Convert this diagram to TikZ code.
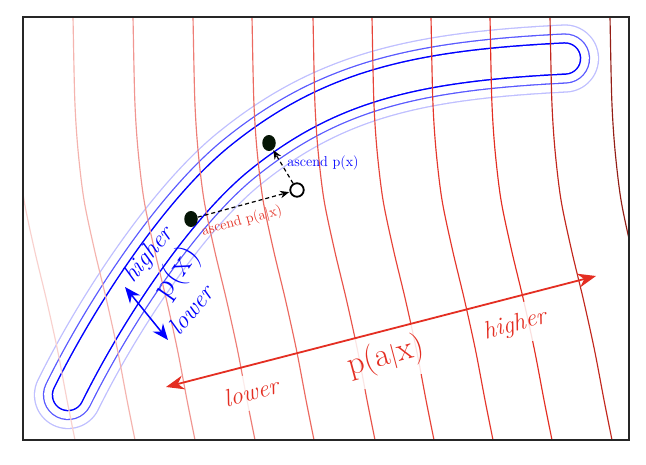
\documentclass[tikz,border=0pt]{standalone}
\usetikzlibrary{arrows.meta,shapes.geometric}
\definecolor{myred}{RGB}{228,46,34}
\definecolor{dotc}{RGB}{6,22,6}
\begin{document}
\begin{tikzpicture}[x=1pt,y=-1pt,
  redline/.style={line width=1.15pt},
  dasharrow/.style={black, line width=1.2pt, dash pattern=on 4pt off 3pt, -{Stealth[length=9pt,width=7.5pt]}, shorten >=0.5pt},
  redlbl/.style={text=myred, fill=white, fill opacity=0.85, text opacity=1, inner sep=9pt, rotate=15},
  bluelbl/.style={text=blue, inner sep=0pt},
  itlbl/.style={font=\fontsize{24.5}{28}\selectfont\itshape},
  biglbl/.style={font=\fontsize{33}{38}\selectfont},
  smalllbl/.style={font=\fontsize{14.3}{17}\selectfont},
  dotnode/.style={ellipse, fill=dotc, minimum width=13.5pt, minimum height=16pt, inner sep=0pt}
]
\useasboundingbox (0,0) rectangle (646,464);
\fill[white] (0,0) rectangle (646,464);

\def\spine{(68,395) .. controls (108,314) and (176,211) .. (237.5,160) .. controls (328,86) and (415,66) .. (565,58.5)}

% blue contours (tube outlines)
\draw[blue!25, line width=68.3pt, line cap=round] \spine;
\draw[white, line width=65.7pt, line cap=round] \spine;
\draw[blue!65, line width=50.3pt, line cap=round] \spine;
\draw[white, line width=47.7pt, line cap=round] \spine;
\draw[blue, line width=32.6pt, line cap=round] \spine;
\draw[white, line width=29.6pt, line cap=round] \spine;

% red contours
\begin{scope}
\clip (23,17) rectangle (629,440);
\foreach \x/\c in {13/myred!22, 73/myred!36, 133/myred!50, 193/myred!62, 252/myred!72, 313/myred!82, 372/myred!90, 431/myred!96, 490/myred, 550/myred!85!black, 610/myred!65!black}{
  \draw[redline, \c] plot[smooth] coordinates {({\x-0.2},8) ({\x},17) ({\x+1.8},100) ({\x+5},150) ({\x+11},200) ({\x+21.5},250) ({\x+33.5},300) ({\x+44.5},350) ({\x+54},400) ({\x+62},440) ({\x+64},450)};
}
\end{scope}

\draw[line width=1.3pt, black!85] (23,17) rectangle (629,440);

% red labels with white backgrounds
\node[redlbl, itlbl] (rl) at (251,392) {lower};
\node[redlbl, biglbl] (rp) at (386,357) {p(a$|$x)};
\node[redlbl, itlbl] (rh) at (515,325) {higher};

% red double arrow
\coordinate (ra1) at (166,387);
\coordinate (ra2) at (596,276);
\draw[myred, line width=1.8pt, {Stealth[length=18pt,width=14pt]}-{Stealth[length=18pt,width=14pt]}] (ra1) -- (ra2);

% blue double arrow
\coordinate (ba1) at (125,287);
\coordinate (ba2) at (168,340);
\draw[blue, line width=1.5pt, {Stealth[length=16pt,width=13pt]}-{Stealth[length=16pt,width=13pt]}] (ba1) -- (ba2);
\node[bluelbl, itlbl, rotate=50] (bh) at (149,255) {higher};
\node[bluelbl, biglbl, rotate=55] (bp) at (177,273) {p(x)};
\node[bluelbl, itlbl, rotate=50] (bl) at (191,310) {lower};

% points
\node[dotnode] (d1) at (191,219) {};
\node[dotnode] (d2) at (269,143) {};
\node[circle, draw=black, line width=1.8pt, fill=white, minimum size=13.5pt, inner sep=0pt] (c) at (297,190) {};

\draw[dasharrow] (d1) -- (c);
\draw[dasharrow] (c) -- (d2);
\node[smalllbl, text=myred, rotate=15, inner sep=0pt] (la) at (242,221) {ascend p(a$|$x)};
\node[smalllbl, text=blue, inner sep=0pt] (lb) at (323,163) {ascend p(x)};
\end{tikzpicture}
\end{document}
